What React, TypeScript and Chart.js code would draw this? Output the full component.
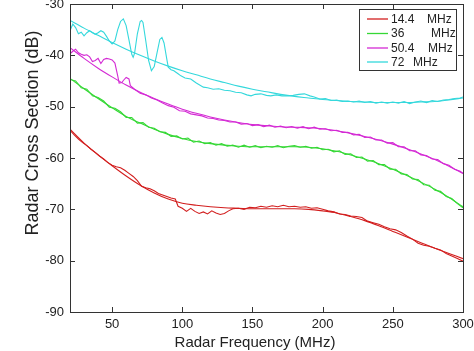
import React, { useEffect, useRef } from 'react';
import { Chart, registerables } from 'chart.js';

Chart.register(...registerables);

const FONT = '"Liberation Sans", Arial, Helvetica, sans-serif';

// ---- data ----
const seriesLabels = ['14.4', '36', '50.4', '72'];
const unitLabel = 'MHz';
const seriesColors = ['#d21e1e', '#35d835', '#d42ad4', '#34d8dc'];

const xTickValues = [50, 100, 150, 200, 250, 300];
const yTickValues = [-30, -40, -50, -60, -70, -80, -90];

const fitFreq = [20, 30, 40, 50, 60, 70, 80, 90, 100, 110, 120, 130, 140, 150, 160, 170, 180, 190, 200, 210, 220, 230, 240, 250, 260, 270, 280, 290, 300];
const redFit = [-54.4, -57.1, -59.4, -61.5, -63.5, -65.3, -66.8, -68.0, -68.8, -69.2, -69.5, -69.7, -69.8, -69.9, -69.9, -69.9, -69.9, -70.0, -70.3, -70.7, -71.4, -72.2, -73.2, -74.3, -75.4, -76.5, -77.6, -78.6, -79.6];
const greenFit = [-44.5, -46.5, -48.4, -50.2, -51.9, -53.2, -54.4, -55.4, -56.2, -56.8, -57.2, -57.5, -57.7, -57.8, -57.8, -57.8, -57.8, -57.9, -58.2, -58.7, -59.4, -60.2, -61.1, -62.2, -63.4, -64.7, -66.1, -67.7, -69.5];
const magentaFit = [-38.5, -40.6, -42.5, -44.2, -45.8, -47.2, -48.4, -49.5, -50.5, -51.3, -52.0, -52.6, -53.1, -53.5, -53.7, -53.9, -54.0, -54.1, -54.3, -54.7, -55.2, -55.8, -56.5, -57.3, -58.2, -59.2, -60.3, -61.6, -63.0];
const cyanFit = [-33.2, -34.7, -36.1, -37.5, -38.8, -40.0, -41.1, -42.1, -43.0, -43.8, -44.6, -45.3, -46.0, -46.6, -47.1, -47.6, -48.0, -48.3, -48.6, -48.8, -49.0, -49.1, -49.2, -49.2, -49.2, -49.1, -49.0, -48.7, -48.3];

const redFreq = [20, 23, 26, 29, 32, 35, 38, 41, 44, 47, 50, 53, 56, 59, 62, 65, 68, 71, 74, 77, 80, 83, 86, 89, 92, 95, 97, 100, 103, 106, 109, 112, 115, 118, 121, 124, 127, 130, 133, 136, 140, 144, 148, 152, 156, 160, 164, 168, 172, 176, 180, 184, 188, 192, 196, 200, 204, 208, 212, 216, 220, 224, 228, 232, 236, 240, 244, 248, 252, 256, 260, 264, 268, 272, 276, 280, 284, 288, 292, 296, 300];
const redMeas = [-54.6, -55.5, -56.3, -57.0, -57.6, -58.3, -58.9, -59.6, -60.2, -60.9, -61.4, -61.7, -61.9, -62.4, -63.0, -63.6, -64.4, -65.5, -65.8, -66.0, -66.4, -66.9, -67.2, -67.5, -67.8, -68.0, -69.4, -69.8, -70.4, -69.8, -70.4, -70.8, -70.5, -70.9, -70.3, -70.7, -71.0, -70.8, -70.3, -69.9, -69.8, -70.0, -69.6, -69.7, -69.4, -69.6, -69.3, -69.5, -69.2, -69.5, -69.4, -69.6, -69.5, -69.8, -69.7, -70.0, -70.3, -70.5, -70.9, -71.0, -71.3, -71.4, -71.6, -72.3, -72.6, -72.9, -73.4, -73.8, -74.0, -74.5, -75.2, -75.8, -76.6, -77.0, -77.2, -77.6, -77.9, -78.6, -79.1, -79.6, -80.1];

const greenFreq = [20, 24, 28, 32, 36, 40, 44, 48, 52, 56, 60, 64, 68, 72, 76, 80, 84, 88, 92, 96, 100, 104, 108, 112, 116, 120, 124, 128, 132, 136, 140, 144, 148, 152, 156, 160, 164, 168, 172, 176, 180, 184, 188, 192, 196, 200, 204, 208, 212, 216, 220, 224, 228, 232, 236, 240, 244, 248, 252, 256, 260, 264, 268, 272, 276, 280, 284, 288, 292, 296, 300];
const greenMeas = [-44.7, -45.0, -46.3, -46.6, -47.9, -48.2, -48.9, -50.1, -50.3, -51.0, -52.1, -52.1, -53.2, -53.1, -54.0, -54.2, -54.9, -55.0, -55.8, -55.7, -56.3, -56.1, -56.9, -56.7, -57.2, -57.0, -57.5, -57.2, -57.7, -57.5, -57.9, -57.5, -57.9, -57.6, -58.0, -57.7, -57.9, -57.6, -58.0, -57.7, -57.6, -57.9, -57.7, -58.1, -57.9, -58.4, -58.3, -58.8, -58.6, -59.3, -59.2, -59.9, -59.8, -60.6, -60.5, -61.3, -61.3, -62.2, -62.2, -63.1, -63.2, -64.1, -64.2, -65.2, -65.3, -66.3, -66.5, -67.5, -67.9, -68.9, -69.7];

const magentaFreq = [20, 22, 24, 26, 28, 30, 32, 34, 36, 38, 40, 42, 44, 46, 48, 50, 52, 54, 55, 57, 58, 60, 62, 63, 66, 70, 74, 78, 82, 86, 90, 94, 98, 102, 106, 110, 114, 118, 122, 126, 130, 134, 138, 142, 146, 150, 154, 158, 162, 166, 170, 174, 178, 182, 186, 190, 194, 198, 202, 206, 210, 214, 218, 222, 226, 230, 234, 238, 242, 246, 250, 254, 258, 262, 266, 270, 274, 278, 282, 286, 290, 294, 298, 300];
const magentaMeas = [-39.7, -39.2, -38.8, -39.5, -39.8, -40.0, -39.9, -40.3, -41.2, -41.0, -40.6, -41.6, -40.8, -40.6, -40.7, -40.9, -41.5, -44.0, -45.4, -45.3, -44.9, -44.3, -44.6, -45.9, -46.6, -47.4, -47.7, -48.3, -48.7, -49.3, -49.8, -50.1, -50.8, -50.9, -51.4, -51.6, -51.8, -52.2, -52.3, -52.6, -52.7, -53.0, -53.0, -53.4, -53.3, -53.7, -53.5, -53.9, -53.6, -54.0, -53.8, -54.1, -53.9, -54.2, -53.9, -54.3, -54.0, -54.4, -54.3, -54.7, -54.6, -55.0, -55.0, -55.5, -55.4, -56.0, -55.9, -56.5, -56.5, -57.1, -57.0, -57.8, -57.8, -58.6, -58.6, -59.4, -59.5, -60.2, -60.3, -61.1, -61.4, -62.2, -62.6, -63.0];

const cyanFreq = [20, 22, 24, 26, 28, 30, 32, 34, 36, 38, 40, 42, 44, 46, 48, 50, 52, 54, 56, 58, 60, 62, 64, 65, 66, 68, 70, 71, 72, 74, 76, 78, 80, 82, 84, 85.5, 87, 89, 90, 92, 94, 97, 99, 102, 106, 110, 115, 118, 122, 126, 130, 134, 138, 142, 146, 149, 152, 156, 160, 163, 167, 171, 175, 179, 183, 187, 191, 194, 198, 202, 206, 210, 214, 218, 222, 226, 230, 234, 238, 242, 246, 250, 254, 258, 262, 266, 270, 274, 278, 282, 286, 290, 294, 298, 300];
const cyanMeas = [-35.2, -33.9, -34.6, -35.8, -35.5, -36.2, -35.6, -35.2, -35.6, -35.9, -35.6, -35.2, -35.5, -36.3, -37.2, -37.8, -37.2, -35.0, -33.4, -32.9, -34.2, -37.0, -39.8, -40.4, -39.6, -35.8, -33.4, -33.2, -33.6, -37.2, -41.0, -43.0, -42.2, -39.5, -36.9, -36.5, -37.6, -40.8, -42.3, -42.8, -43.0, -43.6, -44.0, -44.4, -44.6, -45.4, -46.2, -46.3, -46.6, -46.5, -46.8, -46.9, -47.2, -47.3, -47.7, -47.9, -47.6, -47.5, -47.8, -47.9, -47.7, -47.9, -47.9, -47.8, -47.6, -47.5, -47.9, -48.1, -48.5, -48.4, -48.8, -48.7, -49.0, -48.9, -49.1, -48.9, -49.2, -49.0, -49.3, -49.1, -49.3, -49.1, -49.3, -49.0, -49.4, -49.1, -48.9, -49.2, -48.8, -49.0, -48.7, -48.6, -48.4, -48.3, -48.1];

const measured = [
  [redFreq, redMeas],
  [greenFreq, greenMeas],
  [magentaFreq, magentaMeas],
  [cyanFreq, cyanMeas],
];
const fits = [redFit, greenFit, magentaFit, cyanFit];

const xTitle = 'Radar Frequency (MHz)';
const yTitle = 'Radar Cross Section (dB)';

const pts = (xs: number[], ys: number[]) => xs.map((x, i) => ({ x, y: ys[i] }));

const framePlugin = {
  id: 'framePlugin',
  afterDraw(chart: any) {
    const { ctx, chartArea } = chart;
    const { left, right, top, bottom } = chartArea;
    const xs = chart.scales.x;
    const ys = chart.scales.y;
    ctx.save();
    ctx.strokeStyle = '#333';
    ctx.lineWidth = 1;
    ctx.strokeRect(Math.round(left) + 0.5, Math.round(top) + 0.5, Math.round(right - left), Math.round(bottom - top));
    const tl = 5;
    ctx.beginPath();
    xTickValues.forEach((v) => {
      const px = Math.round(xs.getPixelForValue(v)) + 0.5;
      ctx.moveTo(px, bottom);
      ctx.lineTo(px, bottom - tl);
      ctx.moveTo(px, top);
      ctx.lineTo(px, top + tl);
    });
    yTickValues.forEach((v) => {
      const py = Math.round(ys.getPixelForValue(v)) + 0.5;
      ctx.moveTo(left, py);
      ctx.lineTo(left + tl, py);
      ctx.moveTo(right, py);
      ctx.lineTo(right - tl, py);
    });
    ctx.stroke();

    // axis titles
    ctx.fillStyle = '#222';
    ctx.font = `15px ${FONT}`;
    ctx.textAlign = 'center';
    ctx.textBaseline = 'alphabetic';
    ctx.fillText(xTitle, 255, 347);
    ctx.save();
    ctx.translate(38, 133);
    ctx.rotate(-Math.PI / 2);
    ctx.font = `18px ${FONT}`;
    ctx.fillText(yTitle, 0, 0);
    ctx.restore();

    // legend
    const bx = 359.5, by = 9.5, bw = 97, bh = 61;
    ctx.fillStyle = '#fff';
    ctx.fillRect(bx, by, bw, bh);
    ctx.strokeStyle = '#333';
    ctx.strokeRect(bx, by, bw, bh);
    const rowY = [19, 33.5, 48, 62];
    const unitX = [427, 431, 428, 413];
    ctx.font = `12px ${FONT}`;
    ctx.textAlign = 'left';
    ctx.textBaseline = 'middle';
    seriesLabels.forEach((lab, i) => {
      ctx.strokeStyle = seriesColors[i];
      ctx.lineWidth = 1.3;
      ctx.beginPath();
      ctx.moveTo(367, rowY[i]);
      ctx.lineTo(388, rowY[i]);
      ctx.stroke();
      ctx.fillStyle = '#222';
      ctx.fillText(lab, 391, rowY[i] + 0.5);
      ctx.fillText(unitLabel, unitX[i], rowY[i] + 0.5);
    });
    ctx.restore();
  },
};

export default function App() {
  const ref = useRef<HTMLCanvasElement | null>(null);
  useEffect(() => {
    if (!ref.current) return;
    const datasets: any[] = [];
    fits.forEach((f, i) => {
      datasets.push({
        label: seriesLabels[i] + ' fit',
        data: pts(fitFreq, f),
        borderColor: seriesColors[i],
        borderWidth: 1.1,
        pointRadius: 0,
        cubicInterpolationMode: 'monotone',
        fill: false,
      });
    });
    measured.forEach(([xs, ys], i) => {
      datasets.push({
        label: seriesLabels[i] + ' ' + unitLabel,
        data: pts(xs, ys),
        borderColor: seriesColors[i],
        borderWidth: 1.1,
        pointRadius: 0,
        tension: 0,
        fill: false,
      });
    });
    const chart = new Chart(ref.current, {
      type: 'line',
      data: { datasets },
      plugins: [framePlugin],
      options: {
        animation: false,
        responsive: false,
        maintainAspectRatio: false,
        layout: { padding: { left: 0, top: 4, right: 11, bottom: 0 } },
        plugins: { legend: { display: false }, tooltip: { enabled: false } },
        scales: {
          x: {
            type: 'linear',
            min: 20,
            max: 300,
            afterBuildTicks: (s: any) => {
              s.ticks = xTickValues.map((v) => ({ value: v }));
            },
            afterFit: (s: any) => {
              s.height = 39;
              s.paddingLeft = 0;
              s.paddingRight = 0;
              s.paddingTop = 0;
              s.paddingBottom = 0;
            },
            grid: { display: false, drawTicks: false },
            border: { display: false },
            ticks: { padding: 5, color: '#222', font: { family: FONT, size: 13 }, maxRotation: 0, autoSkip: false },
          },
          y: {
            type: 'linear',
            min: -90,
            max: -30,
            afterBuildTicks: (s: any) => {
              s.ticks = yTickValues.map((v) => ({ value: v }));
            },
            afterFit: (s: any) => {
              s.width = 70;
              s.paddingLeft = 0;
              s.paddingRight = 0;
              s.paddingTop = 0;
              s.paddingBottom = 0;
            },
            grid: { display: false, drawTicks: false },
            border: { display: false },
            ticks: { padding: 6, color: '#222', font: { family: FONT, size: 13 }, autoSkip: false },
          },
        },
      } as any,
    });
    return () => chart.destroy();
  }, []);
  return (
    <div style={{ position: 'fixed', left: 0, top: 0, width: 474, height: 351, background: '#fff', overflow: 'hidden' }}>
      <canvas ref={ref} width={474} height={351} style={{ width: 474, height: 351, display: 'block' }} />
    </div>
  );
}
